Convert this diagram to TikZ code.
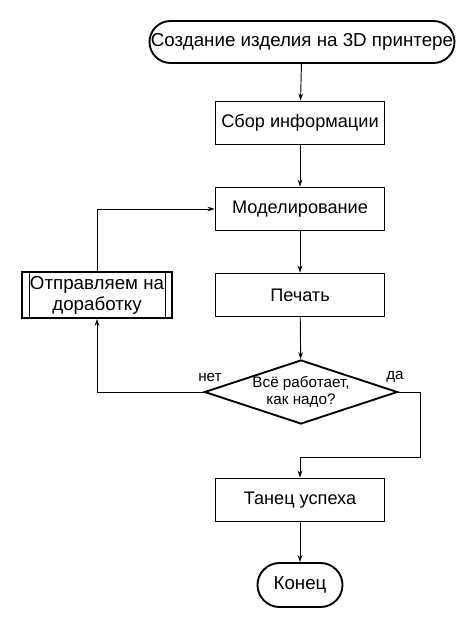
\documentclass[tikz,border=0pt]{standalone}
\usepackage{fontspec}
\setmainfont{Liberation Sans}
\usetikzlibrary{shapes.geometric}
\usetikzlibrary{positioning}
\usetikzlibrary{arrows.meta}

\begin{document}
\begin{tikzpicture}[x=0.03cm, y=-0.03cm,
      block/.style={draw, line width=1.6pt, minimum width=5.07cm, minimum height=1.29cm, inner xsep=0pt, font=\fontsize{15.5}{17.5}\selectfont},
      term/.style={draw, line width=1.6pt, rounded corners=0.63cm, minimum height=1.26cm, inner xsep=1pt, font=\fontsize{16}{18}\selectfont},
      cond/.style={draw, diamond, aspect=3, line width=1.6pt, minimum width=5.79cm, minimum height=1.92cm, inner sep=0pt},
      line/.style={line width=0.8pt, -{Stealth[length=6pt,width=4pt]}},
      lab/.style={align=center, font=\fontsize{13}{14.5}\selectfont},
      ]
      \useasboundingbox (0,0) rectangle (474,629);
      \node[term, minimum width=9.15cm] (start) at (302,42) {Создание изделия на 3D принтере};
      \node[block] (info) at (300,123) {Сбор информации};
      \node[block] (model) at (300,209) {Моделирование};
      \node[block] (print) at (300,295) {Печать};
      \node[block, minimum width=4.5cm, align=center, font=\fontsize{16}{18}\selectfont] (fix) at (97,295) {Отправляем на\\доработку};
      \draw[line width=0.7pt] ([xshift=8*0.03cm]fix.north west) -- ([xshift=8*0.03cm]fix.south west);
      \draw[line width=0.7pt] ([xshift=-8*0.03cm]fix.north east) -- ([xshift=-8*0.03cm]fix.south east);
      \node[cond] (check) at (301,392) {};
      \node[lab] (checktext) at (check.center) {Всё работает,\\как надо?};
      \node[block] (dance) at (300,500) {Танец успеха};
      \node[term, minimum width=2.55cm, minimum height=1.32cm, rounded corners=0.66cm] (end) at (300,585) {Конец};
      \coordinate (yes) at (420,457);

      \draw[line] (start) -- (info);
      \draw[line] (info) -- (model);
      \draw[line] (model) -- (print);
      \draw[line] (print) -- (check);
      \draw[line] (check.west) -| (fix.south);
      \draw[line] (fix.north) |- (model.west);
      \draw[line] (check.east) -| (yes) -| (dance.north);
      \draw[line] (dance) -- (end);
      \node[lab] (no) at (210,377) {нет};
      \node[lab] (da) at (395,377) {да};
    \end{tikzpicture}
\end{document}
